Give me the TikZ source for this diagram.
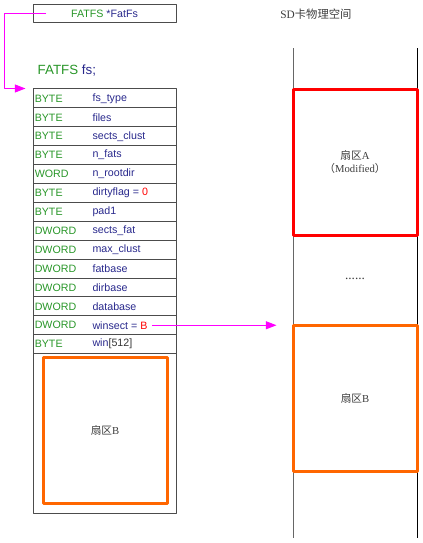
\documentclass[tikz,border=0pt]{standalone}
\usepackage{fontspec}
\setmainfont{Liberation Serif}
\setsansfont{Liberation Sans}
\newfontfamily\cjk{Noto Sans CJK SC}
\usetikzlibrary{arrows.meta}
\definecolor{typgreen}{RGB}{40,150,40}
\definecolor{fldnavy}{RGB}{40,40,140}
\definecolor{ptrpink}{RGB}{255,0,255}
\definecolor{secorange}{RGB}{255,102,0}
\definecolor{labgray}{RGB}{60,60,60}

\begin{document}
\begin{tikzpicture}[x=0.75pt,y=-0.75pt,>={Triangle[length=8pt,width=6pt]}, font=\sffamily\fontsize{8}{9.6}\selectfont, line join=round]
        \def\rowh{18.9} \def\cellw{107.25pt}
        \tikzset{cell/.style={draw=black!70,line width=0.75pt,minimum width=\cellw,minimum height=14.18pt,inner sep=0pt},
                 ptr/.style={draw=ptrpink,line width=0.75pt},
                 sector/.style={line width=2.25pt,minimum width=93pt,minimum height=109.5pt,inner sep=0pt,text=labgray,font=\rmfamily\fontsize{8}{10}\selectfont}}
        \useasboundingbox (0,0) rectangle (423,543);
        % pointer FatFs
        \node[cell] (fatfsptr) at (104.5,13.5) {\textcolor{typgreen}{FATFS} \textcolor{fldnavy}{*FatFs}};
        \coordinate (ptrstart) at (46,13);
        \node[anchor=west,font=\sffamily\fontsize{10}{12}\selectfont] (fsname) at (33,71) {\textcolor{typgreen}{FATFS} \textcolor{fldnavy}{fs;}};
        % struct rows
        \foreach \ty/\nm [count=\i from 0] in {BYTE/fs\_type, BYTE/files, BYTE/sects\_clust, BYTE/n\_fats,
                WORD/n\_rootdir, BYTE/{dirtyflag = \textcolor{red}{0}}, BYTE/pad1, DWORD/sects\_fat,
                DWORD/max\_clust, DWORD/fatbase, DWORD/dirbase, DWORD/database,
                DWORD/{winsect = \textcolor{red}{B}}, BYTE/{win\textcolor{black!80}{[512]}}}
        {
            \node[cell] (row\i) at (104.5,{89+(\i+0.5)*\rowh}) {};
            \node[anchor=west,text=typgreen,inner sep=1.5pt] (typ\i) at (row\i.west) {\ty};
            \node[anchor=west,text=fldnavy] (fld\i) at ([xshift=41.5pt]row\i.west) {\nm};
        }
        \node[cell,minimum height=119.55pt] (winbuf) at (104.5,433.3) {};
        \node[sector,draw=secorange] (bufB) at (105,430) {{\cjk 扇区}B};
        \draw[ptr,->] (ptrstart) -- (4,13) |- ([xshift=-5.25pt]row0.north west);
        % SD card space
        \node[text=labgray,font=\rmfamily\fontsize{8.5}{10}\selectfont] (sdtitle) at (316,14) {SD{\cjk 卡物理空间}};
        \draw[black!60,line width=0.75pt] (293,48) -- (293,538);
        \draw[black,line width=0.75pt] (417,48) -- (417,538);
        \node[sector,draw=red,align=center] (secA) at (355,162) {{\cjk 扇区}A\\{\cjk （}Modified{\cjk ）}};
        \node[text=labgray,font=\rmfamily\fontsize{10}{12}\selectfont] (dots) at (355,279) {......};
        \node[sector,draw=secorange] (secB) at (355,398) {{\cjk 扇区}B};
        \draw[ptr,->,shorten >=11.25pt] (fld12.east) -- (secB.west |- fld12.east);
\end{tikzpicture}
\end{document}
